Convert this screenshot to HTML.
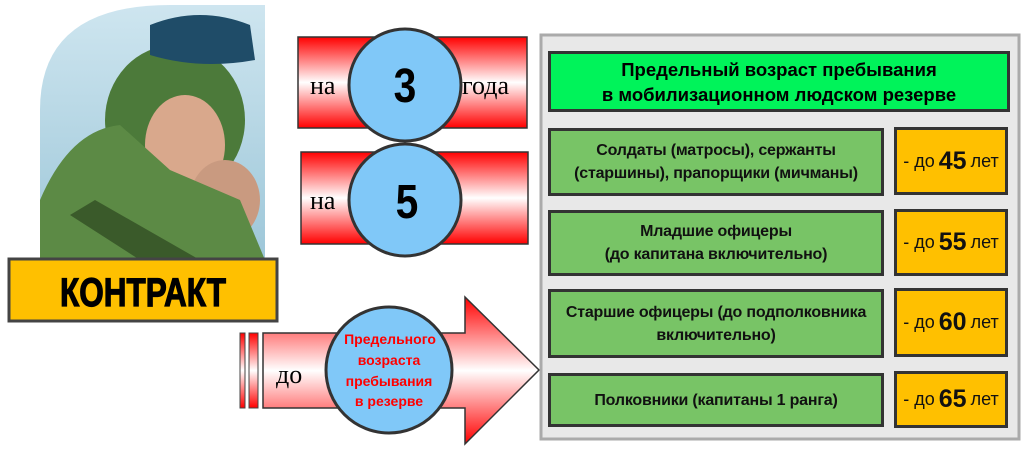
<!DOCTYPE html>
<html><head><meta charset="utf-8"><style>
body{margin:0;width:1024px;height:450px;background:#fff;overflow:hidden;position:relative;font-family:"Liberation Sans",sans-serif}
.a{position:absolute}
.g{position:absolute;background:#78c466;border:3px solid #333;box-sizing:border-box;display:flex;align-items:center;justify-content:center;text-align:center;font-weight:bold;font-size:16px;line-height:23px;color:#111;white-space:nowrap;letter-spacing:-0.2px}
.o{position:absolute;background:#ffc000;border:3px solid #333;box-sizing:border-box;display:flex;align-items:center;justify-content:center;font-size:18px;color:#111}
.o b{font-size:25px;margin:0 4px}
</style></head><body>
<svg class="a" style="left:0;top:0" width="1024" height="450">
<defs>
<linearGradient id="r" x1="0" y1="0" x2="0" y2="1"><stop offset="0" stop-color="#f00"/><stop offset="0.5" stop-color="#fff"/><stop offset="1" stop-color="#f00"/></linearGradient>
<linearGradient id="sky" x1="0" y1="0" x2="0" y2="1"><stop offset="0" stop-color="#cfe6f0"/><stop offset="1" stop-color="#9cc6d8"/></linearGradient>
<clipPath id="ph"><path d="M40 260 L40 110 Q40 5 170 5 L265 5 L265 260 Z"/></clipPath>
</defs>
<g clip-path="url(#ph)">
<rect x="40" y="0" width="230" height="265" fill="url(#sky)"/>
<ellipse cx="175" cy="120" rx="70" ry="75" fill="#4c7a3a"/>
<ellipse cx="185" cy="145" rx="40" ry="50" fill="#d9a88c"/>
<path d="M150 25 Q200 5 250 25 L255 60 Q200 70 150 55 Z" fill="#1f4c68"/>
<ellipse cx="225" cy="200" rx="35" ry="40" fill="#c99a80"/>
<path d="M40 260 L40 200 Q70 130 120 125 L170 170 L240 200 L265 260 Z" fill="#5c8a45"/>
<path d="M95 200 L200 260 L140 260 L70 215 Z" fill="#3a5a2a"/>
</g>
<rect x="9" y="259" width="268" height="62" fill="#ffc000" stroke="#444" stroke-width="3"/>
<rect x="298" y="37" width="229" height="91" fill="url(#r)" stroke="#333" stroke-width="1.5"/>
<rect x="301" y="152" width="227" height="92" fill="url(#r)" stroke="#333" stroke-width="1.5"/>
<circle cx="405" cy="85" r="56" fill="#80c8f8" stroke="#333" stroke-width="3"/>
<circle cx="405" cy="200" r="56" fill="#80c8f8" stroke="#333" stroke-width="3"/>
<rect x="240" y="333" width="5" height="75" fill="url(#r)" stroke="#444"/>
<rect x="249" y="333" width="9" height="75" fill="url(#r)" stroke="#444"/>
<path d="M263 333 L465 333 L465 297 L539 370 L465 444 L465 408 L263 408 Z" fill="url(#r)" stroke="#333" stroke-width="1.5"/>
<circle cx="389" cy="370" r="63" fill="#80c8f8" stroke="#333" stroke-width="3"/>
<rect x="541" y="35" width="478" height="404" fill="#e8e8e8" stroke="#aaa" stroke-width="3"/>
<text x="143" y="306" text-anchor="middle" font-family="Liberation Sans" font-weight="bold" font-size="40" stroke="#000" stroke-width="1.2" textLength="166" lengthAdjust="spacingAndGlyphs">КОНТРАКТ</text>
<g font-family="Liberation Serif" font-size="26">
<text x="310" y="94">на</text><text x="462" y="94">года</text>
<text x="310" y="209">на</text><text x="276" y="383">до</text></g>
<g font-family="Liberation Sans" font-weight="bold" text-anchor="middle">
<text x="405" y="102" font-size="48" transform="translate(405 0) scale(0.85 1) translate(-405 0)">3</text>
<text x="407" y="218" font-size="48" transform="translate(407 0) scale(0.85 1) translate(-407 0)">5</text></g>
<g font-family="Liberation Sans" font-weight="bold" font-size="14" fill="#f00" text-anchor="middle">
<text x="390" y="344">Предельного</text><text x="389" y="365">возраста</text>
<text x="389" y="386">пребывания</text><text x="389" y="406">в резерве</text></g>
</svg>
<div class="a" style="left:548px;top:51px;width:462px;height:61px;background:#00f35a;border:3px solid #333;box-sizing:border-box;display:flex;align-items:center;justify-content:center;text-align:center;font-weight:bold;font-size:18.5px;line-height:25px;white-space:nowrap">Предельный возраст пребывания<br>в мобилизационном людском резерве</div>
<div class="g" style="left:548px;top:128px;width:336px;height:68px">Солдаты (матросы), сержанты<br>(старшины), прапорщики (мичманы)</div>
<div class="g" style="left:548px;top:210px;width:336px;height:66px">Младшие офицеры<br>(до капитана включительно)</div>
<div class="g" style="left:548px;top:289px;width:336px;height:69px">Старшие офицеры (до подполковника<br>включительно)</div>
<div class="g" style="left:548px;top:373px;width:336px;height:54px">Полковники (капитаны 1 ранга)</div>
<div class="o" style="left:894px;top:127px;width:114px;height:68px">- до<b>45</b>лет</div>
<div class="o" style="left:894px;top:209px;width:114px;height:67px">- до<b>55</b>лет</div>
<div class="o" style="left:894px;top:288px;width:114px;height:69px">- до<b>60</b>лет</div>
<div class="o" style="left:894px;top:371px;width:114px;height:57px">- до<b>65</b>лет</div>
</body></html>
